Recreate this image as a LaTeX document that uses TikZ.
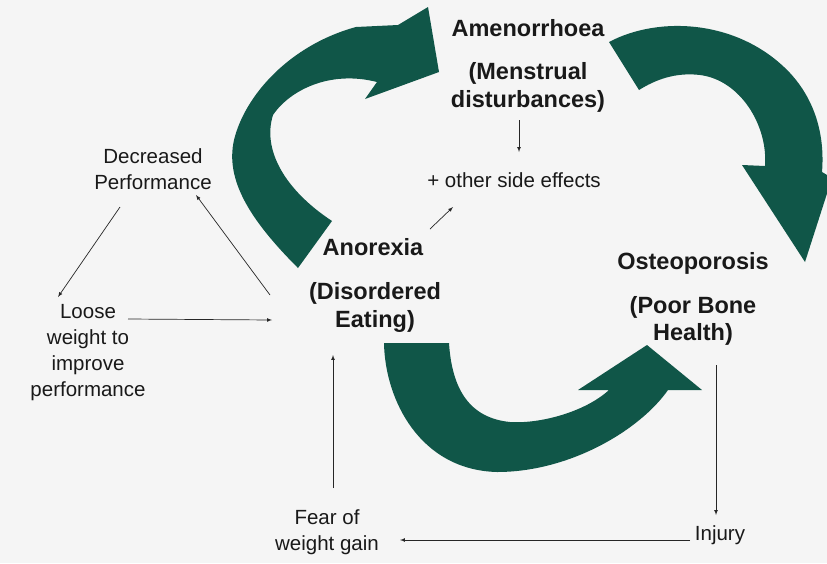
\documentclass[tikz,border=0pt]{standalone}
\usepackage{fontspec}
\setmainfont{Liberation Sans}
\begin{document}
\begin{tikzpicture}[x=1pt,y=-1pt,
  big/.style={font=\bfseries\fontsize{23.5}{26}\selectfont,text=black!90},
  small/.style={font=\fontsize{20.5}{26}\selectfont,align=center,text=black!90},
  band/.style={fill={rgb,255:red,16;green,86;blue,72},draw=none},
  link/.style={-latex,line width=0.7pt,black!85}]
\fill[white!96!black] (0,0) rectangle (827,563);
\useasboundingbox (0,0) rectangle (827,563);
% left arrow
\path[band] (298,268) .. controls (250,220) and (225,180) .. (234,140)
  .. controls (245,95) and (290,45) .. (356,27) -- (398,25) -- (428,7) -- (439,72) -- (365,99) -- (377,82)
  .. controls (330,70) and (290,90) .. (273,115) .. controls (262,150) and (285,190) .. (332,221) -- cycle;
% top-right arrow
\path[band] (609,42) .. controls (660,15) and (740,20) .. (790,73)
  .. controls (815,100) and (825,135) .. (822,172) -- (832,178) -- (805,262) -- (742,165) -- (765,166)
  .. controls (768,125) and (740,80) .. (700,75) .. controls (675,72) and (655,80) .. (639,90) -- cycle;
% bottom arrow
\path[band] (384,343) .. controls (385,400) and (420,470) .. (497,472)
  .. controls (570,472) and (640,430) .. (668,390) -- (702,390) -- (647,345) -- (578,390) -- (609,390)
  .. controls (585,412) and (540,424) .. (510,422) .. controls (470,418) and (452,390) .. (449,343) -- cycle;
% texts
\node[big] (am) at (528,28) {Amenorrhoea};
\node[big] (ms1) at (528,73) {(Menstrual};
\node[big] (ms2) at (528,101) {disturbances)};
\node[small] (ose) at (514,180) {+ other side effects};
\node[big] (an) at (373,247) {Anorexia};
\node[big] (de1) at (375,293) {(Disordered};
\node[big] (de2) at (375,321) {Eating)};
\node[big] (os) at (693,263) {Osteoporosis};
\node[big] (pb1) at (693,307) {(Poor Bone};
\node[big] (pb2) at (693,334) {Health)};
\node[small] (dp) at (153,169) {Decreased\\Performance};
\node[small] (lw) at (88,353) {Loose\\weight to\\improve\\performance};
\node[small] (fw) at (327,532) {Fear of\\weight gain};
\node[small] (inj) at (720,535) {Injury};
% coordinates
\coordinate (a1) at (519,120); \coordinate (a2) at (519,152);
\coordinate (b1) at (430,229); \coordinate (b2) at (453,207);
\coordinate (c1) at (270,295); \coordinate (c2) at (196,195);
\coordinate (d1) at (120,207); \coordinate (d2) at (58,297);
\coordinate (e1) at (128,319); \coordinate (e2) at (272,320);
\coordinate (f1) at (333,488); \coordinate (f2) at (333,355);
\coordinate (g1) at (716,365); \coordinate (g2) at (716,515);
\coordinate (h1) at (690,540); \coordinate (h2) at (400,540);
\draw[link] (a1) -- (a2);
\draw[link] (b1) -- (b2);
\draw[link] (c1) -- (c2);
\draw[link] (d1) -- (d2);
\draw[link] (e1) -- (e2);
\draw[link] (f1) -- (f2);
\draw[link] (g1) -- (g2);
\draw[link] (h1) -- (h2);
\end{tikzpicture}
\end{document}
